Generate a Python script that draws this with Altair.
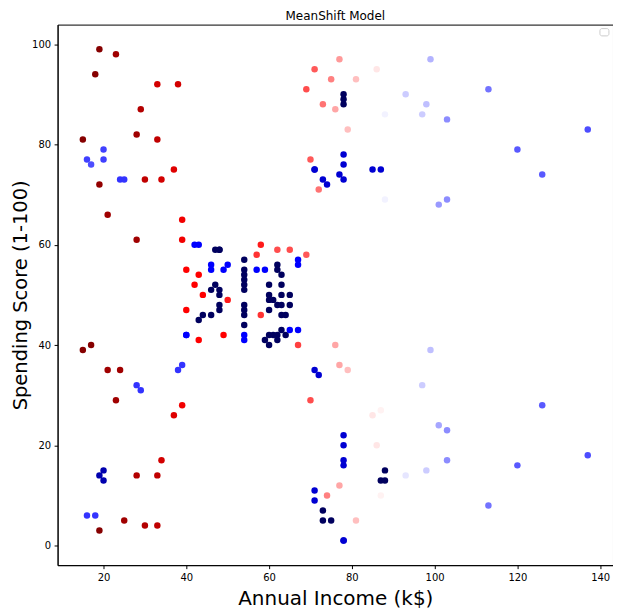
import altair as alt
import pandas as pd

income = [15,15,16,16,17,17,18,18,19,19,19,19,20,20,20,20,21,21,23,23,
          24,24,25,25,28,28,28,28,29,29,30,30,33,33,33,33,34,34,37,37,
          38,38,39,39,39,39,40,40,40,40,42,42,43,43,43,43,44,44,46,46,
          46,46,47,47,48,48,48,48,48,48,49,49,50,50,54,54,54,54,54,54,
          54,54,54,54,54,54,57,57,58,58,59,59,60,60,60,60,60,60,61,61,
          62,62,62,62,62,62,63,63,63,63,63,63,64,64,65,65,65,65,67,67,
          67,67,69,69,70,70,71,71,71,71,71,71,72,72,73,73,73,73,74,74,
          75,75,76,76,77,77,77,77,78,78,78,78,78,78,78,78,78,78,78,78,
          79,79,81,81,85,85,86,86,87,87,87,87,87,87,88,88,88,88,93,93,
          97,97,98,98,99,99,101,101,103,103,103,103,113,113,120,120,126,126,137,137]

score = [39,81,6,77,40,76,6,94,3,72,14,99,15,77,13,79,35,66,29,98,
         35,73,5,73,14,82,32,61,31,87,4,73,4,92,14,81,17,73,26,75,
         35,92,36,61,28,65,55,47,42,42,52,60,54,60,45,41,50,46,51,46,
         56,55,52,59,51,59,50,48,59,47,55,42,49,56,47,54,53,48,52,42,
         51,55,41,44,57,46,58,55,60,46,55,41,49,40,42,52,47,50,42,49,
         41,48,59,55,56,42,50,46,43,48,52,54,42,46,48,50,43,59,43,57,
         56,40,58,91,29,77,35,95,11,75,9,75,34,71,5,88,7,73,10,72,
         5,93,40,87,12,97,36,74,22,90,17,88,20,76,16,89,1,78,1,73,
         35,83,5,93,26,75,20,95,27,63,13,75,10,92,13,86,15,69,14,90,
         32,86,15,88,39,97,24,68,17,85,23,69,8,91,16,79,28,74,18,83]

cluster = [79,79,24,25,79,26,24,79,79,77,11,79,11,25,11,25,75,75,75,75,
           75,24,75,24,72,75,24,75,24,72,72,70,70,67,70,70,67,67,65,65,
           24,67,24,62,62,62,60,60,20,20,60,20,60,20,2,60,60,2,2,2,
           20,20,2,2,2,2,2,2,2,2,20,60,58,20,2,2,2,2,2,20,
           2,2,20,2,2,2,56,20,58,56,20,2,2,2,2,2,2,2,2,2,
           2,2,54,2,2,2,2,2,2,2,2,2,2,2,2,2,20,54,20,20,
           20,55,53,54,54,53,15,53,15,15,15,15,15,51,2,51,2,15,50,15,
           2,50,47,47,47,48,47,15,15,2,15,2,15,15,15,2,15,15,15,15,
           45,45,45,45,42,15,42,42,41,40,2,15,41,40,2,39,2,39,38,36,
           36,36,36,35,35,34,33,32,31,31,31,31,29,29,27,27,27,27,26,26]

df = pd.DataFrame({"income": income, "score": score, "cluster": cluster,
                   "order": list(range(len(income)))})

W, H = 556.6, 541.7

pts = alt.Chart(df).mark_circle(size=42, opacity=1).encode(
    x=alt.X("income:Q", title="Annual Income (k$)",
            scale=alt.Scale(domain=[8.9, 143.1], nice=False, zero=False),
            axis=alt.Axis(values=[20, 40, 60, 80, 100, 120, 140], grid=False,
                          titleFontSize=20, titleFontWeight="normal", titlePadding=6)),
    y=alt.Y("score:Q", title="Spending Score (1-100)",
            scale=alt.Scale(domain=[-3.9, 103.9], nice=False, zero=False),
            axis=alt.Axis(values=[0, 20, 40, 60, 80, 100], grid=False,
                          titleFontSize=19.5, titleFontWeight="normal", titlePadding=1)),
    color=alt.Color("cluster:Q", legend=None,
                    scale=alt.Scale(domain=[0, 20, 40, 60, 80],
                                    range=["#00004c", "#0000ff", "#ffffff", "#ff0000", "#800000"],
                                    interpolate="rgb")),
    order="order:Q",
)

legend_box = alt.Chart(pd.DataFrame({"a": [0]})).mark_rect(
    fill="white", stroke="#cccccc", strokeWidth=1, cornerRadius=2
).encode(x=alt.value(543.5), x2=alt.value(552.5), y=alt.value(4), y2=alt.value(11.3))

chart = alt.layer(pts, legend_box).properties(
    width=W, height=H,
    title=alt.TitleParams("MeanShift Model", fontSize=12, fontWeight="normal",
                          offset=2, anchor="middle", color="black"),
    autosize=alt.AutoSizeParams(type="none"),
    padding={"left": 49.7, "top": 16, "right": 0, "bottom": 46},
).configure(font="DejaVu Sans").configure_view(
    stroke="black", strokeWidth=1
).configure_axis(
    domainColor="black", tickColor="black", tickSize=3.5, labelPadding=3.5,
    labelFontSize=10, labelColor="black", titleColor="black", labelFont="DejaVu Sans",
    titleFont="DejaVu Sans"
)

chart.save("out.html", embed_options={"renderer": "svg", "actions": False})
